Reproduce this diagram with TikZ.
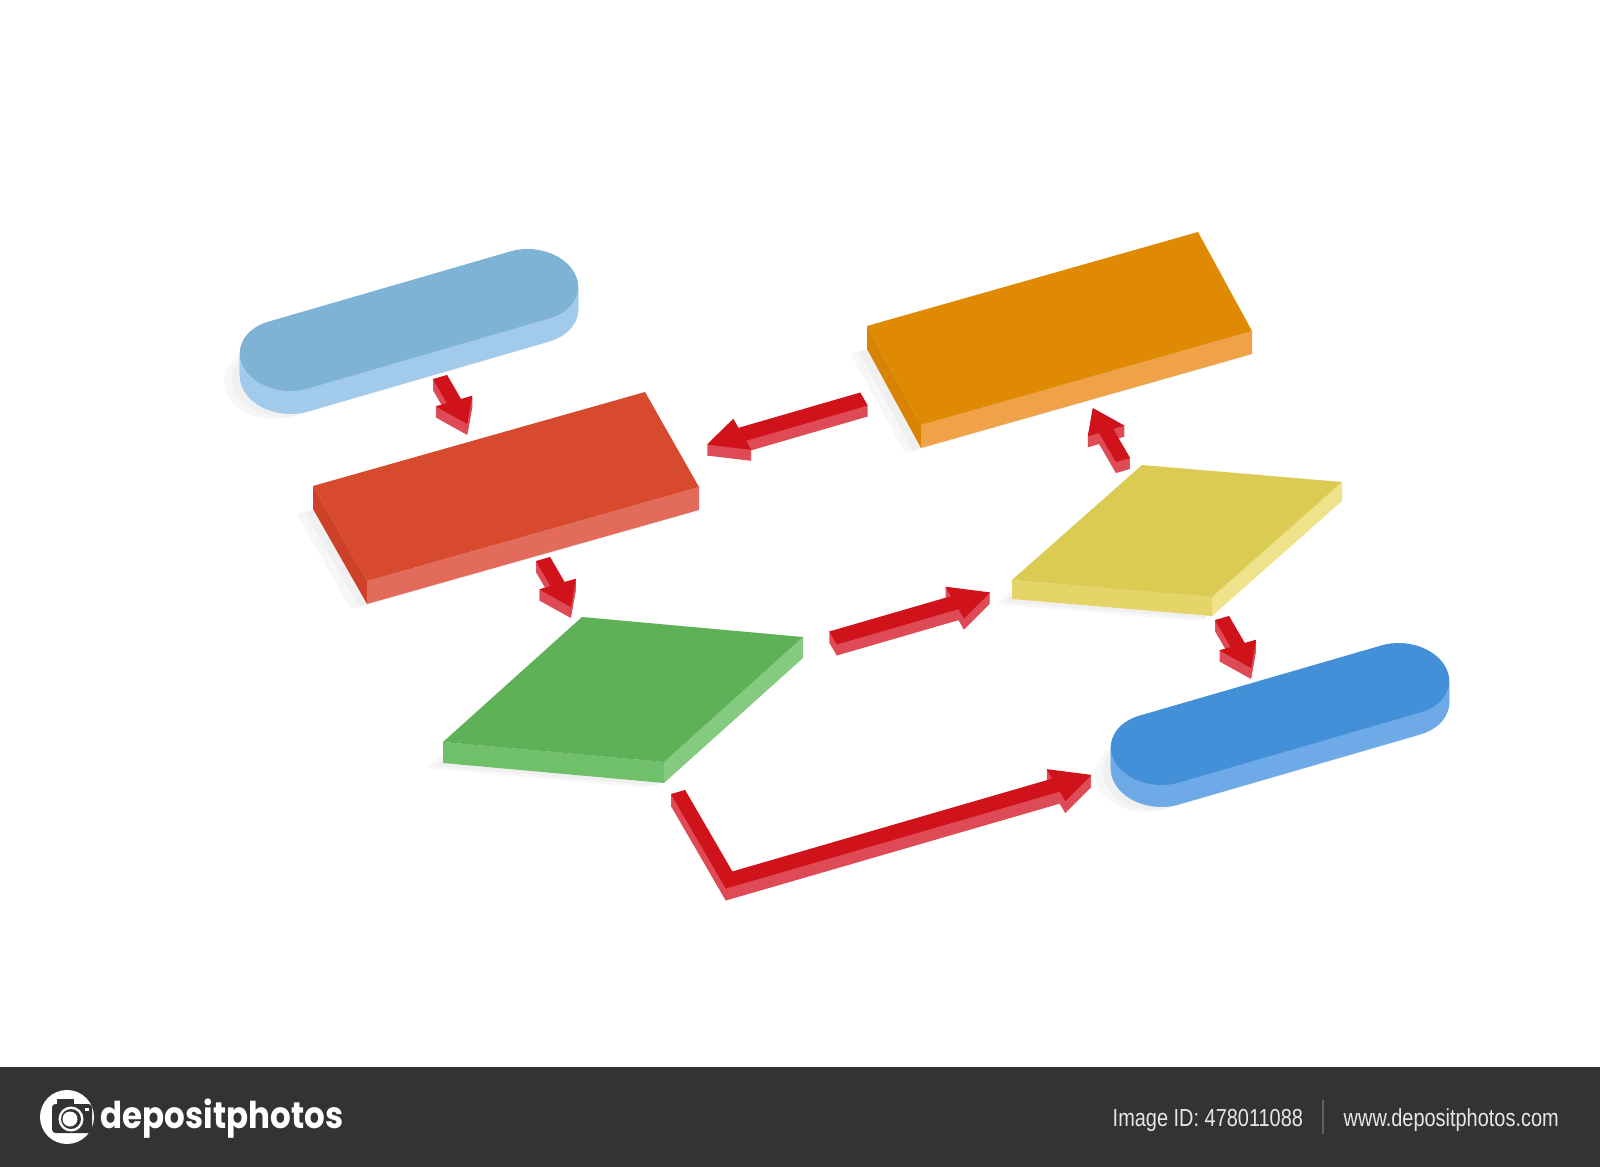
\documentclass[tikz,border=0pt]{standalone}
\usepackage{graphicx}
\usepackage{fontspec}
\setmainfont{Liberation Sans}
\newfontfamily\logofont{Poppins}
\usepackage{tikz}
\usetikzlibrary{calc}

\definecolor{paletop}{HTML}{7EB3D6}
\definecolor{paleside}{HTML}{A2CBEB}
\definecolor{deeptop}{HTML}{4390D8}
\definecolor{deepside}{HTML}{6EA9E8}
\definecolor{redtop}{HTML}{D84A2E}
\definecolor{redfront}{HTML}{E36B5C}
\definecolor{redleft}{HTML}{CC4128}
\definecolor{orangetop}{HTML}{DF8A02}
\definecolor{orangefront}{HTML}{EFA248}
\definecolor{orangeleft}{HTML}{D98305}
\definecolor{greentop}{HTML}{5FB157}
\definecolor{greenfront}{HTML}{70BF6A}
\definecolor{greenright}{HTML}{84CB80}
\definecolor{yellowtop}{HTML}{DCCB52}
\definecolor{yellowfront}{HTML}{E5D568}
\definecolor{yellowright}{HTML}{EEE38A}
\definecolor{arrowtop}{HTML}{D0121B}
\definecolor{arrowside}{HTML}{DE4A55}
\definecolor{footbar}{HTML}{333333}
\definecolor{foottext}{HTML}{E6E6E6}

\tikzset{
  flat/.style={x={(0.01414cm,0.0041cm)},y={(0.0058cm,-0.01cm)}},
  alongv/.style={x={(0.01414cm,0.0041cm)},y={(0.0058cm,-0.01cm)}},
  backv/.style={x={(0.01414cm,0.0041cm)},y={(-0.0058cm,0.01cm)}},
  alongu/.style={x={(0.0058cm,-0.01cm)},y={(0.01414cm,0.0041cm)}},
  backu/.style={x={(0.0058cm,-0.01cm)},y={(-0.01414cm,-0.0041cm)}},
  farshade/.style={fill=black!3},
  nearshade/.style={fill=black!6},
  footnote/.style={anchor=base west,inner sep=0pt,text=foottext}
}

\newcommand{\pillpath}{(-85.6,-33.5) -- (85.6,-33.5) arc[start angle=-90,end angle=90,x radius=31,y radius=33.5] -- (-85.6,33.5) arc[start angle=90,end angle=270,x radius=31,y radius=33.5] -- cycle}

\newcommand{\flatarrow}[6]{%
  \foreach \d in {1,...,11}
    \fill[arrowside,shift={#1},#2,yshift=-\d*0.01cm] (-#3,0) -- (#3,0) -- (#3,#6-#5) -- (#4,#6-#5) -- (0,#6) -- (-#4,#6-#5) -- (-#3,#6-#5) -- cycle;
  \fill[arrowtop,shift={#1},#2] (-#3,0) -- (#3,0) -- (#3,#6-#5) -- (#4,#6-#5) -- (0,#6) -- (-#4,#6-#5) -- (-#3,#6-#5) -- cycle;
}

\begin{document}
\begin{tikzpicture}[x=0.01cm,y=-0.01cm]
\useasboundingbox (0,0) rectangle (1600,1167);
\fill[white] (0,0) rectangle (1600,1067);

\coordinate (rA) at (313,486);
\coordinate (rB) at (645,392);
\coordinate (rC) at (699,487);
\coordinate (rD) at (367,581);
\coordinate (oA) at (867,326);
\coordinate (oB) at (1198,232);
\coordinate (oC) at (1252,331);
\coordinate (oD) at (921,425);
\coordinate (gL) at (443,742);
\coordinate (gT) at (582,617);
\coordinate (gR) at (803,637);
\coordinate (gB) at (664,762);
\coordinate (yL) at (1012,580);
\coordinate (yT) at (1142,465);
\coordinate (yR) at (1342,482);
\coordinate (yB) at (1212,597);

\fill[farshade] ($(rA)+(-16,28)$) -- ($(rB)+(-16,28)$) -- ($(rC)+(-16,28)$) -- ($(rD)+(-16,28)$) -- cycle;
\fill[nearshade] ($(rA)+(-8,26)$) -- ($(rB)+(-8,26)$) -- ($(rC)+(-8,26)$) -- ($(rD)+(-8,26)$) -- cycle;
\fill[farshade] ($(oA)+(-16,28)$) -- ($(oB)+(-16,28)$) -- ($(oC)+(-16,28)$) -- ($(oD)+(-16,28)$) -- cycle;
\fill[nearshade] ($(oA)+(-8,26)$) -- ($(oB)+(-8,26)$) -- ($(oC)+(-8,26)$) -- ($(oD)+(-8,26)$) -- cycle;
\fill[farshade] ($(gL)+(-16,26)$) -- ($(gT)+(-16,26)$) -- ($(gR)+(-16,26)$) -- ($(gB)+(-16,26)$) -- cycle;
\fill[nearshade] ($(gL)+(-8,24)$) -- ($(gT)+(-8,24)$) -- ($(gR)+(-8,24)$) -- ($(gB)+(-8,24)$) -- cycle;
\fill[farshade] ($(yL)+(-16,24)$) -- ($(yT)+(-16,24)$) -- ($(yR)+(-16,24)$) -- ($(yB)+(-16,24)$) -- cycle;
\fill[nearshade] ($(yL)+(-8,22)$) -- ($(yT)+(-8,22)$) -- ($(yR)+(-8,22)$) -- ($(yB)+(-8,22)$) -- cycle;

\begin{scope}[shift={(409,320)},flat]
\fill[farshade,xshift=-0.16cm,yshift=-0.28cm] \pillpath;
\fill[nearshade,xshift=-0.08cm,yshift=-0.26cm] \pillpath;
\foreach \d in {1,...,23}
  \fill[paleside,yshift=-\d*0.01cm] \pillpath;
\fill[paletop] \pillpath;
\end{scope}

\begin{scope}[shift={(1280,714)},flat]
\fill[farshade,xshift=-0.16cm,yshift=-0.27cm] \pillpath;
\fill[nearshade,xshift=-0.08cm,yshift=-0.25cm] \pillpath;
\foreach \d in {1,...,22}
  \fill[deepside,yshift=-\d*0.01cm] \pillpath;
\fill[deeptop] \pillpath;
\end{scope}

\fill[redleft] (rA) -- (rD) -- ($(rD)+(0,23)$) -- ($(rA)+(0,23)$) -- cycle;
\fill[redfront] (rD) -- (rC) -- ($(rC)+(0,23)$) -- ($(rD)+(0,23)$) -- cycle;
\fill[redtop] (rA) -- (rB) -- (rC) -- (rD) -- cycle;

\fill[orangeleft] (oA) -- (oD) -- ($(oD)+(0,23)$) -- ($(oA)+(0,23)$) -- cycle;
\fill[orangefront] (oD) -- (oC) -- ($(oC)+(0,23)$) -- ($(oD)+(0,23)$) -- cycle;
\fill[orangetop] (oA) -- (oB) -- (oC) -- (oD) -- cycle;

\fill[greenfront] (gL) -- (gB) -- ($(gB)+(0,21)$) -- ($(gL)+(0,21)$) -- cycle;
\fill[greenright] (gB) -- (gR) -- ($(gR)+(0,21)$) -- ($(gB)+(0,21)$) -- cycle;
\fill[greentop] (gL) -- (gT) -- (gR) -- (gB) -- cycle;

\fill[yellowfront] (yL) -- (yB) -- ($(yB)+(0,19)$) -- ($(yL)+(0,19)$) -- cycle;
\fill[yellowright] (yB) -- (yR) -- ($(yR)+(0,19)$) -- ($(yB)+(0,19)$) -- cycle;
\fill[yellowtop] (yL) -- (yT) -- (yR) -- (yB) -- cycle;

\flatarrow{(440,377)}{alongv}{5}{13}{23}{47}
\flatarrow{(543,559)}{alongv}{5}{13}{23}{48}
\flatarrow{(864,399)}{backu}{6.5}{15.5}{25}{111}
\flatarrow{(833,638)}{alongu}{6.5}{16}{25}{111}
\flatarrow{(1123,460)}{backv}{5}{13}{23}{52}
\flatarrow{(1222,618)}{alongv}{5}{13}{23}{50}

\foreach \d in {1,...,12}
  \fill[arrowside,shift={(678,792)},flat,yshift=-\d*0.01cm] (-5,0) -- (5,0) -- (5,81.5) -- (231,81.5) -- (231,72) -- (256,88) -- (231,104) -- (231,94.5) -- (-5,94.5) -- cycle;
\fill[arrowtop,shift={(678,792)},flat] (-5,0) -- (5,0) -- (5,81.5) -- (231,81.5) -- (231,72) -- (256,88) -- (231,104) -- (231,94.5) -- (-5,94.5) -- cycle;

\fill[footbar] (0,1067) rectangle (1600,1167);
\fill[white] (67,1117) circle[radius=27];
\fill[footbar,rounded corners=1pt] (52,1104) rectangle (92,1133);
\fill[footbar] (57,1099) rectangle (74,1105);
\fill[white] (71,1119) circle[radius=12.5];
\fill[footbar] (71,1119) circle[radius=10];
\fill[white] (70,1119) circle[radius=7.5];
\fill[white] (85,1108) rectangle (89,1111);
\node[anchor=base west,inner sep=0pt,text=white] (brand) at (100,1128) {\logofont\bfseries\fontsize{10.5}{12}\selectfont\scalebox{0.88}[1]{depositphotos}};
\node[footnote] (imageid) at (1112,1126) {\fontsize{7}{8}\selectfont\scalebox{0.81}[1]{Image ID: 478011088}};
\node[footnote] (website) at (1343,1126) {\fontsize{7}{8}\selectfont\scalebox{0.81}[1]{www.depositphotos.com}};
\draw[gray!60!footbar,line width=0.4pt] (1323,1100) -- (1323,1134);
\end{tikzpicture}
\end{document}
